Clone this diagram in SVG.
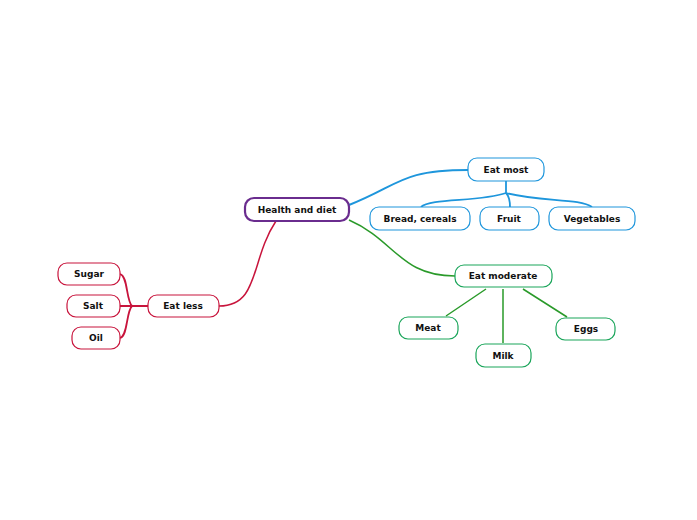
<svg xmlns="http://www.w3.org/2000/svg" width="697" height="520" viewBox="0 0 697 520">
<style>
text{font-family:"DejaVu Sans",sans-serif;font-weight:bold;font-size:9px;fill:#111;text-anchor:middle;dominant-baseline:central}
rect{fill:#fff;stroke-width:1.2}
.b rect{stroke:#1e96dc}.g rect{stroke:#1aa55a}.r rect{stroke:#c8143c}
path{fill:none}
</style>
<defs><marker id="a" viewBox="0 0 10 10" refX="9" refY="5" markerWidth="6" markerHeight="6" orient="auto"><path d="M0,0L10,5L0,10z" fill="#2a9a2a"/></marker></defs>
<g id="connectors">
<path d="M349,205C400,185 400,170 468,170" stroke="#1e96dc" stroke-width="2"/>
<path d="M506,181V193M506,193C480,202 430,198 421,207M506,193C510,197 510,203 510,207M506,193C540,202 580,198 592,207" stroke="#1e96dc" stroke-width="1.8"/>
<path d="M349,220C395,240 400,276 455,276" stroke="#2a9a2a" stroke-width="1.5"/>
<path d="M486,289L446,316M503,289V343M523,289L567,317" stroke="#2a9a2a" stroke-width="1.5" marker-end="url(#a)"/>
<path d="M276,221C250,260 260,306 219,306" stroke="#c8143c" stroke-width="1.5"/>
<path d="M148,306H132M120,306H132M132,306C126,300 128,276 120,274M132,306C126,312 128,336 120,338" stroke="#c8143c" stroke-width="1.8"/>
</g>
<g id="n0"><rect x="245" y="198" width="104" height="23" rx="9" style="stroke:#6a2c8e;stroke-width:2.2"/><text x="297" y="210">Health and diet</text></g>
<g id="n1" class="b"><rect x="468" y="158" width="76" height="23" rx="9"/><text x="506" y="170">Eat most</text></g>
<g id="n2" class="b"><rect x="370" y="207" width="100" height="23" rx="9"/><text x="420" y="219">Bread, cereals</text></g>
<g id="n3" class="b"><rect x="480" y="207" width="59" height="23" rx="9"/><text x="509" y="219">Fruit</text></g>
<g id="n4" class="b"><rect x="549" y="207" width="86" height="23" rx="9"/><text x="592" y="219">Vegetables</text></g>
<g id="n5" class="g"><rect x="455" y="265" width="97" height="22" rx="9"/><text x="503" y="276">Eat moderate</text></g>
<g id="n6" class="g"><rect x="399" y="317" width="59" height="22" rx="9"/><text x="428" y="328">Meat</text></g>
<g id="n7" class="g"><rect x="476" y="344" width="55" height="23" rx="9"/><text x="503" y="356">Milk</text></g>
<g id="n8" class="g"><rect x="556" y="318" width="59" height="22" rx="9"/><text x="586" y="329">Eggs</text></g>
<g id="n9" class="r"><rect x="148" y="295" width="71" height="22" rx="9"/><text x="183" y="306">Eat less</text></g>
<g id="n10" class="r"><rect x="58" y="263" width="62" height="22" rx="9"/><text x="89" y="274">Sugar</text></g>
<g id="n11" class="r"><rect x="67" y="295" width="53" height="22" rx="9"/><text x="93" y="306">Salt</text></g>
<g id="n12" class="r"><rect x="72" y="327" width="48" height="22" rx="9"/><text x="96" y="338">Oil</text></g>
</svg>
